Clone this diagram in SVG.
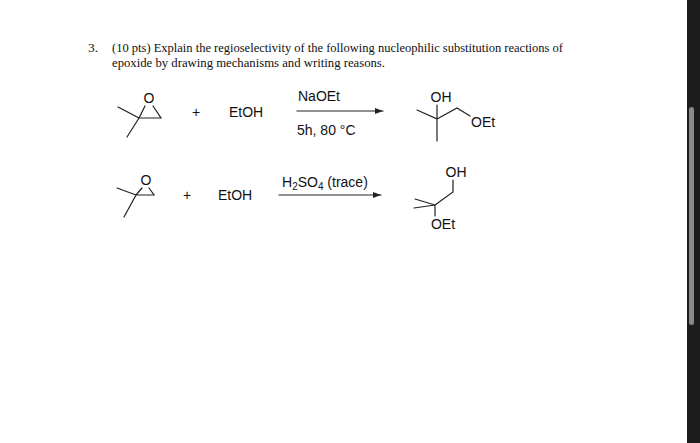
<svg xmlns="http://www.w3.org/2000/svg" width="700" height="443" viewBox="0 0 700 443">
<defs>
<style>
.b{stroke:#222;stroke-width:1.2;fill:none;stroke-linecap:round}
.s{font-family:"Liberation Sans",Arial,sans-serif;font-size:14px;fill:#111}
.h{font-family:"Liberation Serif","Times New Roman",serif;font-size:13.5px;fill:#111}
</style>
<marker id="ar" markerWidth="8" markerHeight="6" refX="8" refY="3" orient="auto" markerUnits="userSpaceOnUse"><path d="M0,0 L8,3 L0,6 Z" fill="#222"/></marker>
</defs>
<rect width="700" height="443" fill="#fff"/>
<rect x="687" y="0" width="13" height="443" fill="#1c1c1c"/>
<rect x="689" y="107" width="5" height="218" rx="2.5" fill="#8a8a8a"/>
<text class="h" x="88" y="52">3.</text>
<text class="h" x="112" y="52" textLength="451" lengthAdjust="spacingAndGlyphs">(10 pts) Explain the regioselectivity of the following nucleophilic substitution reactions of</text>
<text class="h" x="112" y="67" textLength="273" lengthAdjust="spacingAndGlyphs">epoxide by drawing mechanisms and writing reasons.</text>
<g id="epoxide1">
<path class="b" d="M118,107 L139,118 L127,137 M139,118 L161,118 L153,106 M139,118 L145,106"/>
<text class="s" x="149" y="103" text-anchor="middle">O</text>
</g>
<g id="plus1"><text class="s" x="196" y="117" text-anchor="middle">+</text></g>
<g id="etoh1"><text class="s" x="229" y="117">EtOH</text></g>
<g id="product1">
<path class="b" d="M417,110 L437,119 L437,141 M437,119 L437,105 M437,119 L457,108 L470,116"/>
<text class="s" x="441" y="102" text-anchor="middle">OH</text>
<text class="s" x="471" y="127">OEt</text>
</g>
<g id="epoxide2">
<path class="b" d="M117,188 L136,195 L124,217 M136,195 L154,195 L149,188 M136,195 L142,188"/>
<text class="s" x="146" y="185" text-anchor="middle">O</text>
</g>
<g id="plus2"><text class="s" x="187" y="200" text-anchor="middle">+</text></g>
<g id="etoh2"><text class="s" x="218" y="200">EtOH</text></g>
<g id="product2">
<path class="b" d="M415,199 L435,205 L414,208 M435,205 L435,216 M435,205 L453,192 L453,180"/>
<text class="s" x="456" y="177" text-anchor="middle">OH</text>
<text class="s" x="443" y="229" text-anchor="middle">OEt</text>
</g>
<g id="connectors">
<line class="b" x1="297" y1="111" x2="383" y2="111" marker-end="url(#ar)"/>
<line class="b" x1="279" y1="195" x2="381" y2="195" marker-end="url(#ar)"/>
<text class="s" x="298" y="101">NaOEt</text>
<text class="s" x="297" y="135">5h, 80 °C</text>
<text class="s" x="282" y="187">H<tspan font-size="10" dy="3">2</tspan><tspan dy="-3">SO</tspan><tspan font-size="10" dy="3">4</tspan><tspan dy="-3"> (trace)</tspan></text>
</g>
</svg>
